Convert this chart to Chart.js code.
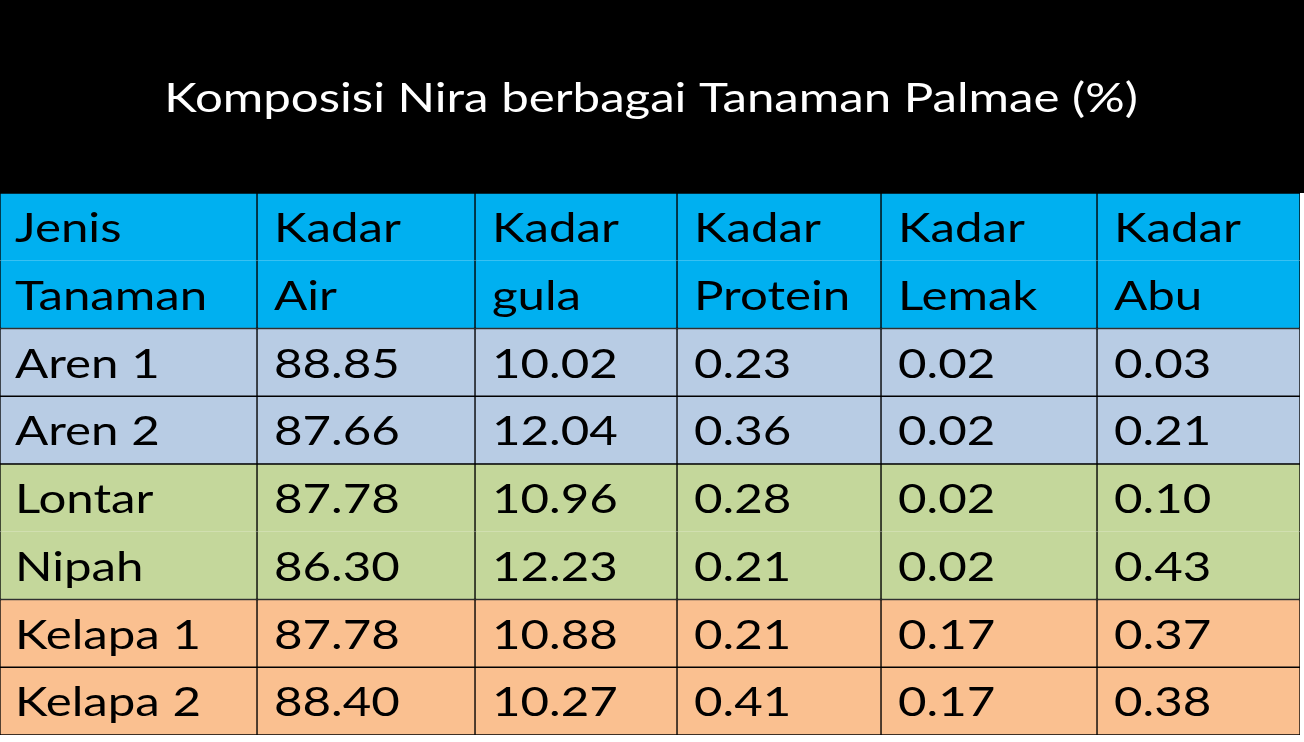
<!DOCTYPE html>
<html><head><meta charset="utf-8">
<script src="https://cdn.jsdelivr.net/npm/chart.js@4"></script>
<style>html,body{margin:0;padding:0;background:#fff}#w{width:1304px;height:742px}</style>
</head><body><div id="w"><canvas id="c"></canvas></div>
<script>
const title = "Komposisi Nira berbagai Tanaman Palmae (%)";
const headerTop = ["Jenis", "Kadar", "Kadar", "Kadar", "Kadar", "Kadar"];
const headerBottom = ["Tanaman", "Air", "gula", "Protein", "Lemak", "Abu"];
const categories = ["Aren 1", "Aren 2", "Lontar", "Nipah", "Kelapa 1", "Kelapa 2"];
const kadarAir = ["88.85", "87.66", "87.78", "86.30", "87.78", "88.40"];
const kadarGula = ["10.02", "12.04", "10.96", "12.23", "10.88", "10.27"];
const kadarProtein = ["0.23", "0.36", "0.28", "0.21", "0.21", "0.41"];
const kadarLemak = ["0.02", "0.02", "0.02", "0.02", "0.17", "0.17"];
const kadarAbu = ["0.03", "0.21", "0.10", "0.43", "0.37", "0.38"];

const columns = [categories, kadarAir, kadarGula, kadarProtein, kadarLemak, kadarAbu];
const colWidths = [257, 218, 202, 204, 216, 203];
const rowColors = ["#00B0F0", "#00B0F0", "#B8CCE4", "#B8CCE4", "#C4D79B", "#C4D79B", "#FAC090", "#FAC090"];
const rows = ["h1", "h2"].concat(categories);
const cellText = columns.map((col, i) => [headerTop[i], headerBottom[i]].concat(col));
const noBottom = new Set([0, 4]), noTop = new Set([1, 5]);
const SX = 1.2;

const datasets = columns.map((col, i) => ({
  data: rows.map(() => colWidths[i]),
  texts: cellText[i],
  backgroundColor: ctx => rowColors[ctx.dataIndex],
  borderColor: "#000",
  borderSkipped: false,
  borderWidth: ctx => ({
    left: 1, right: 1,
    top: noTop.has(ctx.dataIndex) ? 0 : 1,
    bottom: noBottom.has(ctx.dataIndex) ? 0 : 1
  }),
  barPercentage: 1, categoryPercentage: 1
}));

const textPlugin = {
  id: "cellText",
  beforeDraw(chart) {
    const c = chart.ctx;
    c.save(); c.fillStyle = "#000";
    c.fillRect(0, 0, chart.width, chart.chartArea.top);
    c.font = "41px Lato"; c.fillStyle = "#fff";
    c.textAlign = "center"; c.textBaseline = "middle";
    c.translate(651, 99); c.scale(SX, 1);
    c.fillText(title, 0, 0);
    c.restore();
  },
  afterDatasetsDraw(chart) {
    const c = chart.ctx;
    chart.data.datasets.forEach((ds, di) => {
      chart.getDatasetMeta(di).data.forEach((el, ri) => {
        c.save();
        c.textBaseline = "middle"; c.textAlign = "left";
        c.font = "41px Lato";
        c.fillStyle = "#000";
        c.translate(el.base + (di === 0 ? 15 : 17), el.y + 2);
        c.scale(SX, 1);
        c.fillText(ds.texts[ri], 0, 0);
        c.restore();
      });
    });
  }
};

new Chart(document.getElementById("c"), {
  type: "bar",
  data: { labels: rows, datasets },
  options: {
    indexAxis: "y", responsive: true, maintainAspectRatio: false, animation: false,
    layout: { padding: { left: 0, right: 4, top: 193, bottom: 7 } },
    scales: {
      x: { stacked: true, display: false, min: 0, max: colWidths.reduce((a, b) => a + b, 0) },
      y: { stacked: true, display: false }
    },
    plugins: { legend: { display: false }, tooltip: { enabled: false }, title: { display: false } }
  },
  plugins: [textPlugin]
});
</script></body></html>
